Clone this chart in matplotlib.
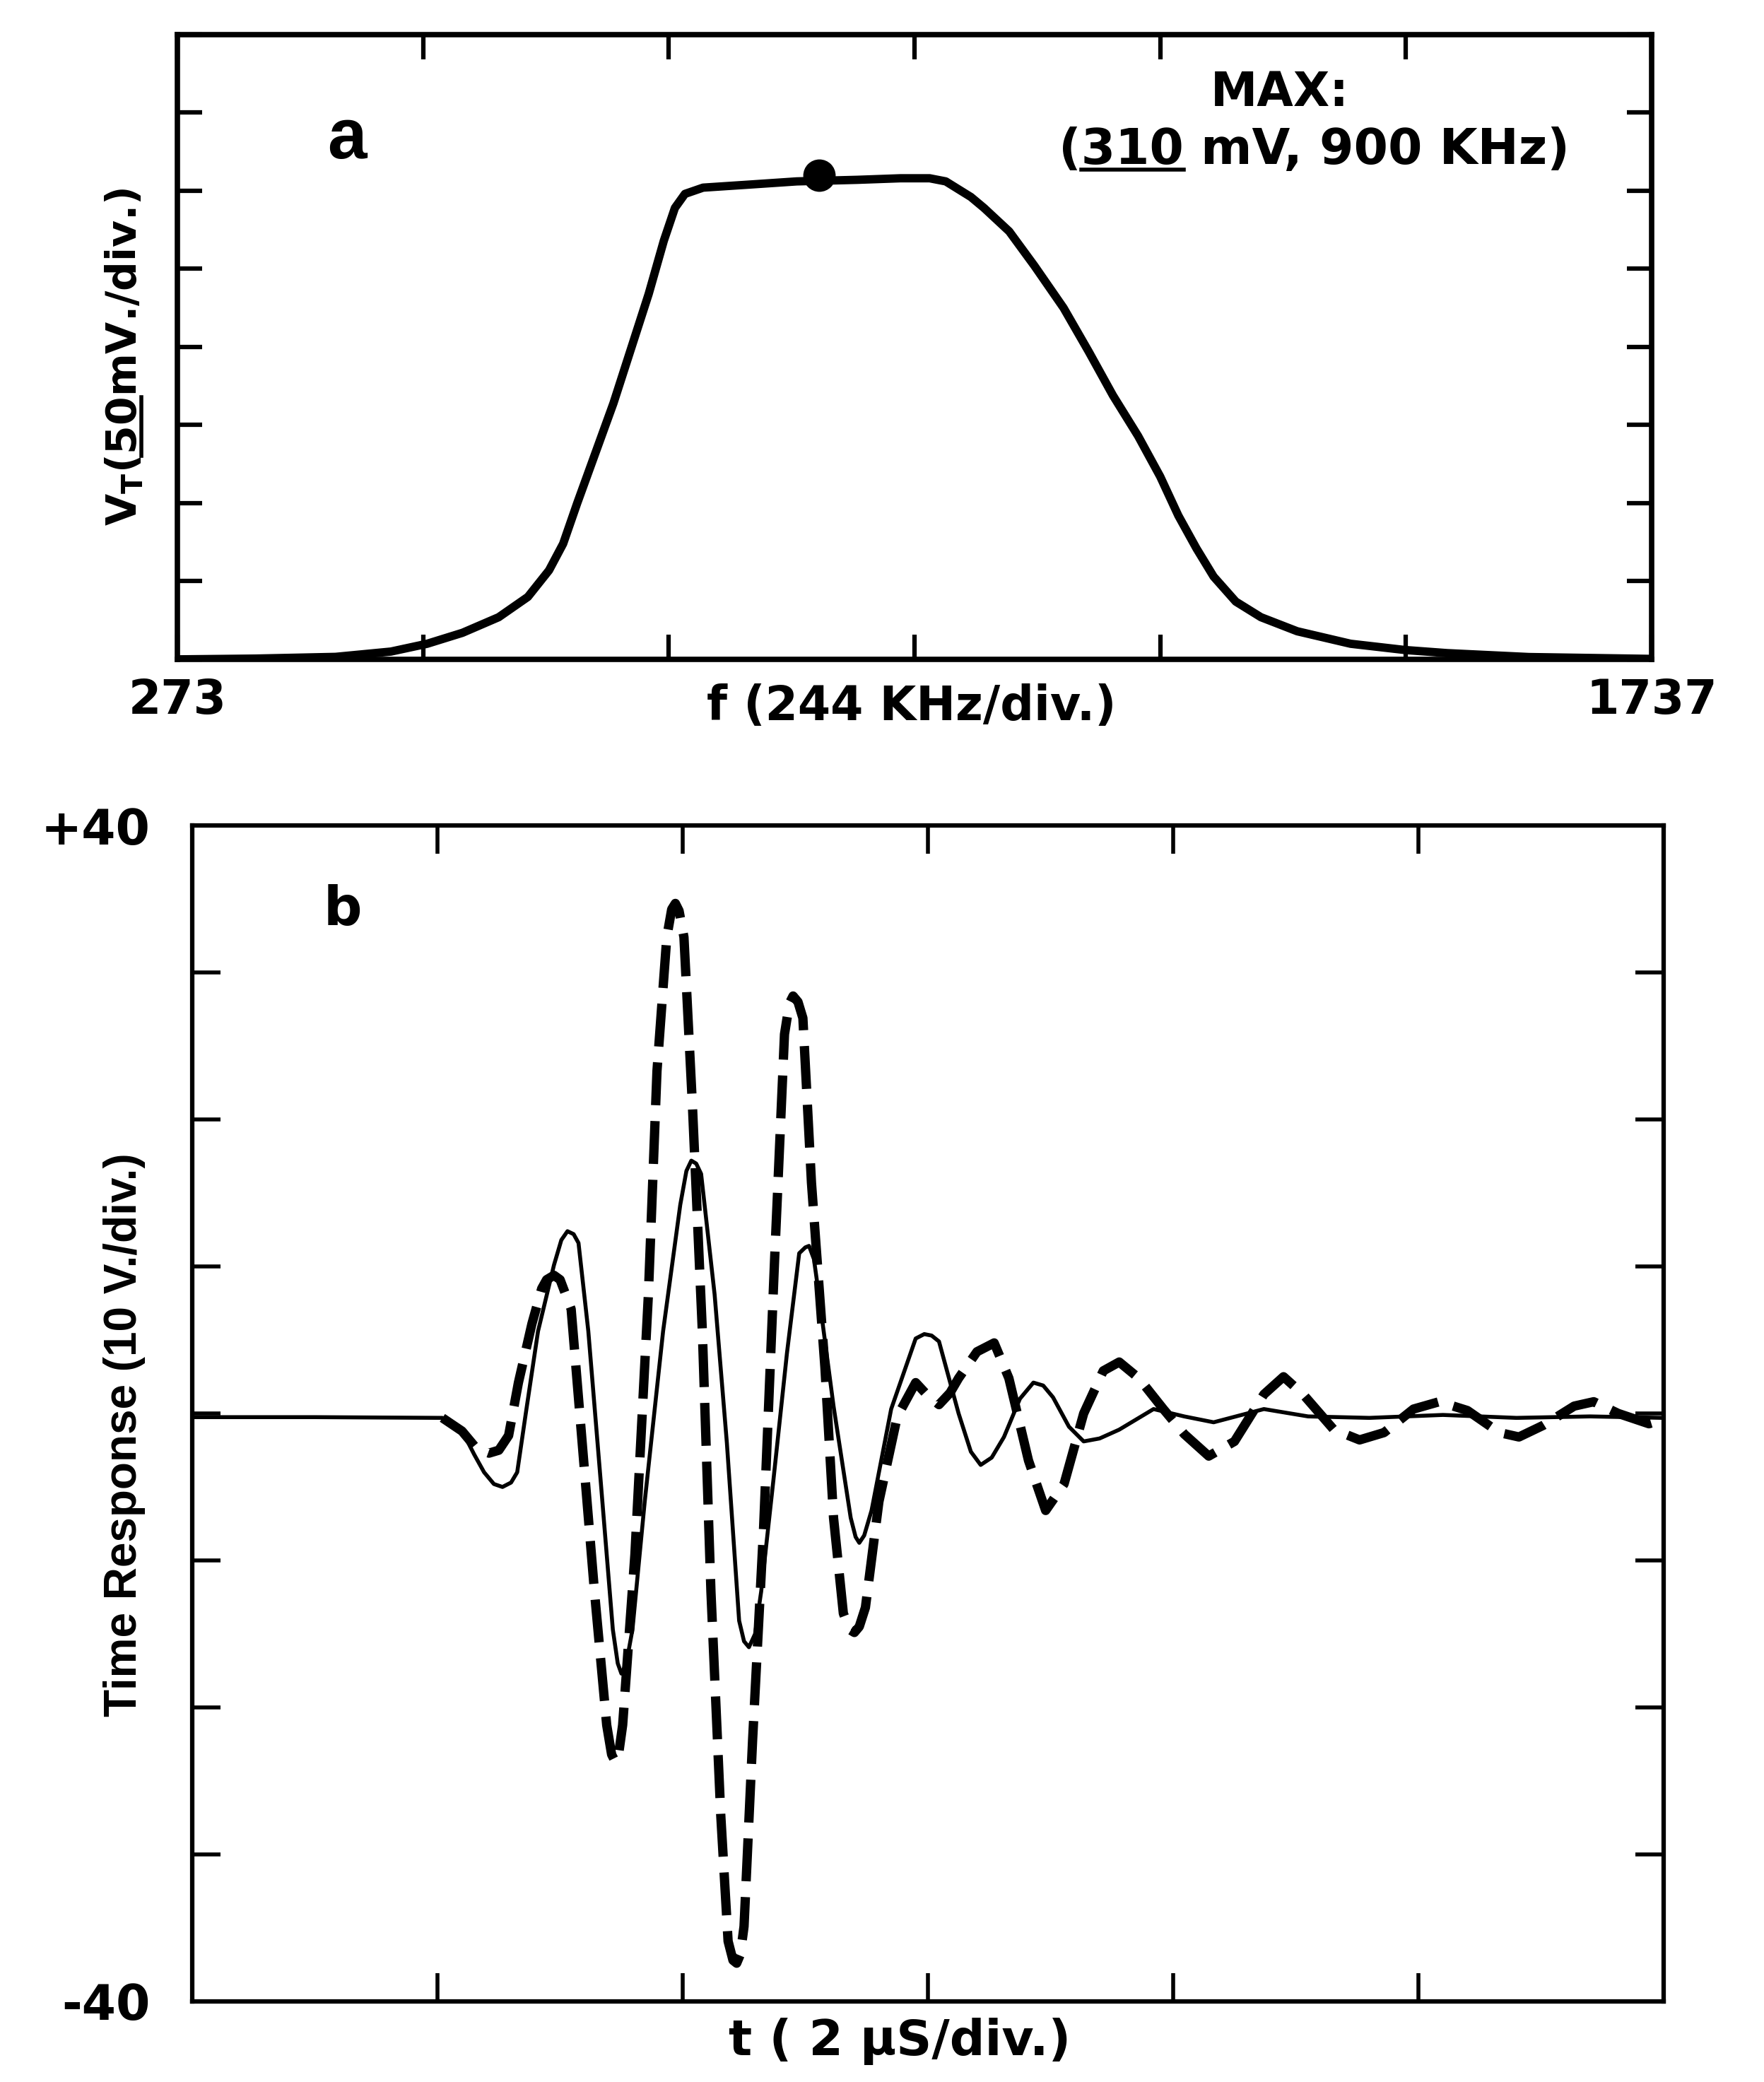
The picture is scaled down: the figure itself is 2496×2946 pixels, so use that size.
import matplotlib
matplotlib.use('Agg')
import matplotlib.pyplot as plt
from matplotlib.lines import Line2D

plt.rcParams['font.family'] = ['DejaVu Sans']
plt.rcParams['font.weight'] = 'bold'
plt.rcParams['axes.labelweight'] = 'bold'
plt.rcParams['mathtext.fontset'] = 'custom'
plt.rcParams['mathtext.rm'] = 'DejaVu Sans:bold'
plt.rcParams['mathtext.bf'] = 'DejaVu Sans:bold'
plt.rcParams['mathtext.it'] = 'DejaVu Sans:bold'
plt.rcParams['mathtext.default'] = 'bf'

# panel a: transfer response, f in KHz, V in mV
freq_khz = [273, 350, 430, 485, 521, 556, 592, 621, 642, 656, 670, 688, 706, 724, 741,
            756, 767, 777, 795, 842, 888, 948, 991, 1020, 1036, 1046, 1061, 1074, 1099,
            1124, 1153, 1178, 1202, 1227, 1249, 1267, 1285, 1302, 1324, 1349, 1385, 1438,
            1492, 1534, 1615, 1737]
vt_mv = [0, 0.5, 1.6, 5, 10, 17, 27, 40, 57, 74, 100, 132, 164, 200, 234,
         268, 289, 298, 302, 304, 306, 307, 308, 308, 306, 302, 296, 289, 274,
         252, 225, 197, 169, 143, 117, 92, 71, 53, 37, 27, 18, 10,
         6, 4, 1.5, 0.3]
max_point = (910, 310)
freq_ticks = [273, 517, 761, 1005, 1249, 1493, 1737]
freq_ticklabels = ['273', '', '', '', '', '', '1737']

# panel b: time responses, t in microseconds, V in volts
t_solid = [0, 1.0, 2.04, 2.15, 2.22, 2.30, 2.38, 2.46, 2.53, 2.60, 2.65, 2.72, 2.82, 2.95,
           3.01, 3.06, 3.11, 3.15, 3.23, 3.33, 3.43, 3.47, 3.50, 3.54, 3.59, 3.69, 3.84,
           3.98, 4.03, 4.07, 4.11, 4.15, 4.26, 4.36, 4.46, 4.50, 4.54, 4.59, 4.64, 4.74,
           4.85, 4.95, 5.00, 5.03, 5.07, 5.11, 5.23, 5.37, 5.41, 5.44, 5.48, 5.54, 5.70,
           5.90, 5.97, 6.03, 6.09, 6.25, 6.35, 6.43, 6.52, 6.62, 6.75, 6.86, 6.94, 7.02,
           7.15, 7.27, 7.40, 7.56, 7.84, 8.09, 8.33, 8.74, 9.1, 9.6, 10.2, 10.8, 11.4, 12.0]
v_solid = [-0.25, -0.25, -0.3, -0.9, -1.5, -2.8, -4.0, -4.8, -5.0, -4.7, -4.0, 0.0, 5.6, 10.1,
           11.8, 12.4, 12.2, 11.6, 5.6, -4.5, -14.7, -17.0, -17.7, -17.0, -14.7, -6.0, 5.6,
           14.2, 16.5, 17.2, 17.0, 16.3, 8.1, -2.0, -14.1, -15.5, -15.9, -15.0, -12.1, -4.5,
           4.1, 10.9, 11.3, 11.4, 10.5, 8.1, 0.5, -7.1, -8.4, -8.8, -8.3, -6.6, 0.3,
           5.1, 5.4, 5.3, 4.9, 0.0, -2.6, -3.5, -3.0, -1.6, 1.0, 2.1, 1.9, 1.1,
           -0.9, -1.9, -1.7, -1.1, 0.3, -0.2, -0.6, 0.3, -0.2, -0.3, -0.1, -0.3, -0.2, -0.3]

t_dashed = [2.04, 2.20, 2.32, 2.42, 2.50, 2.58, 2.66, 2.77, 2.85, 2.89, 2.95, 3.00,
            3.09, 3.18, 3.28, 3.38, 3.42, 3.45, 3.48, 3.51, 3.61, 3.72, 3.79, 3.87, 3.91,
            3.94, 3.97, 4.01, 4.08, 4.16, 4.23, 4.31, 4.37, 4.41, 4.44, 4.47, 4.50, 4.57,
            4.66, 4.75, 4.83, 4.87, 4.90, 4.94, 4.98, 5.05, 5.16, 5.23, 5.31, 5.36, 5.40,
            5.44, 5.49, 5.60, 5.75, 5.90, 6.00, 6.09, 6.18, 6.25, 6.40, 6.54, 6.66, 6.82,
            6.96, 7.11, 7.27, 7.43, 7.56, 7.72, 7.92, 8.09, 8.29, 8.50, 8.74, 8.90, 9.06,
            9.31, 9.52, 9.72, 9.96, 10.17, 10.4, 10.66, 10.82, 11.02, 11.27, 11.43, 11.63,
            11.88, 12.0]
v_dashed = [-0.3, -1.2, -2.4, -2.7, -2.5, -1.5, 2.1, 6.1, 8.5, 9.1, 9.4, 9.1,
            7.1, -2.0, -12.1, -21.2, -23.2, -23.7, -23.0, -21.2, -9.6, 8.1, 23.3, 32.4, 34.3,
            34.7, 34.2, 32.4, 20.8, 5.6, -12.1, -27.3, -35.9, -37.2, -37.4, -36.8, -34.9, -22.2,
            -7.7, 10.6, 25.8, 27.9, 28.4, 28.0, 26.9, 15.7, 3.1, -7.1, -13.6, -14.7, -14.9,
            -14.5, -13.2, -6.0, -0.2, 2.1, 1.2, 0.6, 1.4, 2.4, 4.2, 4.8, 2.4, -3.2,
            -6.6, -4.8, 0.0, 2.9, 3.5, 2.4, 0.3, -1.4, -2.9, -1.9, 1.3, 2.5, 1.3,
            -1.1, -1.8, -1.3, 0.3, 0.8, 0.2, -1.3, -1.6, -0.8, 0.5, 0.8, 0.0,
            -0.7, -0.4]
time_ticks = [0, 2, 4, 6, 8, 10, 12]
volt_ticks = [-40, -30, -20, -10, 0, 10, 20, 30, 40]
volt_ticklabels = ['-40', '', '', '', '', '', '', '', '+40']

fig = plt.figure(figsize=(24.96, 29.46), dpi=100)
ax1 = fig.add_axes([0.1006, 0.6833, 0.8357, 0.3001])
ax2 = fig.add_axes([0.1090, 0.0387, 0.8341, 0.5648])

# ---- panel a ----
ax1.plot(freq_khz, vt_mv, color='black', lw=8.5, solid_joinstyle='round', solid_capstyle='round')
ax1.plot([max_point[0]], [max_point[1]], 'o', color='black', ms=32)
ax1.set_xlim(273, 1737)
ax1.set_ylim(0, 400)
ax1.set_xticks(freq_ticks)
ax1.set_xticklabels(freq_ticklabels)
ax1.set_yticks(range(0, 401, 50))
ax1.set_yticklabels([])
ax1.tick_params(direction='in', length=25, width=4.5, top=True, right=True,
                labelsize=48, pad=18)
for s in ax1.spines.values():
    s.set_linewidth(5.5)
ax1.set_xlabel('f (244 KHz/div.)', fontsize=48, va='center', weight='bold')
ax1.xaxis.set_label_coords(0.498, -0.076)
ylab1 = ax1.set_ylabel(r'V$_{\rm T}$(50mV./div.)', fontsize=42, va='center', ha='center',
                       weight='bold')
ax1.yaxis.set_label_coords(-0.036, 0.484)
ax1.text(0.115, 0.831, 'a', transform=ax1.transAxes, ha='center', va='center',
         fontsize=72, family='Liberation Sans', weight='bold')
ax1.text(0.748, 0.907, 'MAX:', transform=ax1.transAxes, ha='center', va='center', fontsize=48)
max_txt = ax1.text(0.771, 0.815, '(310 mV, 900 KHz)', transform=ax1.transAxes,
                   ha='center', va='center', fontsize=50)

# ---- panel b ----
ax2.plot(t_solid, v_solid, color='black', lw=4, solid_joinstyle='round')
ax2.plot(t_dashed, v_dashed, color='black', lw=9.5, dashes=(4.6, 1.7),
         dash_joinstyle='round')
ax2.set_xlim(0, 12)
ax2.set_ylim(-40, 40)
ax2.set_xticks(time_ticks)
ax2.set_xticklabels([])
ax2.set_yticks(volt_ticks)
ax2.set_yticklabels(volt_ticklabels)
ax2.tick_params(direction='in', length=29, width=4, top=True, right=True,
                labelsize=50, pad=43)
for s in ax2.spines.values():
    s.set_linewidth(4.5)
ax2.set_xlabel('t ( 2 µS/div.)', fontsize=50, va='center', weight='bold')
ax2.xaxis.set_label_coords(0.481, -0.034)
ax2.set_ylabel('Time Response (10 V./div.)', fontsize=46, va='center', ha='center',
               family=['Liberation Sans Narrow', 'Liberation Sans'], weight='bold')
ax2.yaxis.set_label_coords(-0.046, 0.482)
ax2.text(0.102, 0.928, 'b', transform=ax2.transAxes, ha='center', va='center', fontsize=55)

# underlines under "310" and "50"
fig.canvas.draw()
renderer = fig.canvas.get_renderer()
inv = fig.transFigure.inverted()


def underline(txt, prefix, word, vertical=False):
    prop = txt.get_fontproperties()
    bb = txt.get_window_extent(renderer)
    ismath = '$' in prefix
    w0 = renderer.get_text_width_height_descent(prefix, prop, ismath=ismath)[0]
    w1 = renderer.get_text_width_height_descent(prefix + word, prop, ismath=ismath)[0]
    d = renderer.get_text_width_height_descent('lp', prop, ismath=False)[2]
    if vertical:
        x = bb.x1 - d * 0.45
        p0 = inv.transform((x, bb.y0 + w0))
        p1 = inv.transform((x, bb.y0 + w1))
    else:
        y = bb.y0 + d * 0.45
        p0 = inv.transform((bb.x0 + w0, y))
        p1 = inv.transform((bb.x0 + w1, y))
    fig.add_artist(Line2D([p0[0], p1[0]], [p0[1], p1[1]], transform=fig.transFigure,
                          color='black', lw=4))


underline(max_txt, '(', '310')
underline(ylab1, r'V$_{\rm T}$(', '50', vertical=True)

fig.savefig('out.png', dpi=100)
